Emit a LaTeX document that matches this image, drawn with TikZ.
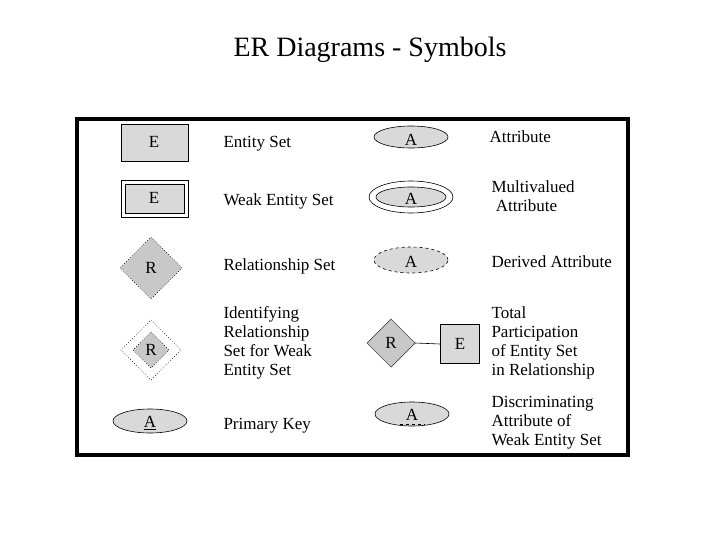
\documentclass[tikz,border=0pt]{standalone}
\usepackage{fontspec}
\setmainfont{Liberation Serif}
\usetikzlibrary{shapes.geometric}
\definecolor{shade}{HTML}{D9D9D9}
\definecolor{dshade}{HTML}{C8C8C8}
\begin{document}
\begin{tikzpicture}[x=1pt,y=-1pt,
  ent/.style={draw,fill=shade,line width=0.8pt},
  rel/.style={draw,fill=dshade,dotted,line width=0.7pt},
  att/.style={draw,fill=shade,ellipse,line width=0.6pt},
  lbl/.style={font=\fontsize{17}{19}\selectfont,anchor=west,align=left},
  sym/.style={font=\fontsize{17}{18}\selectfont}]
\useasboundingbox (0,0) rectangle (720,540);
\node[font=\fontsize{28}{32}\selectfont] (title) at (370,50) {ER Diagrams - Symbols};
\draw[line width=4pt] (77,119) rectangle (628,455);
% entity
\draw[ent] (121,124) rectangle (188,161);
\node[sym] (e1) at (154,142) {E};
\node[lbl] (l1) at (220,144) {Entity Set};
% weak
\draw[line width=0.8pt] (121,180) rectangle (188,217);
\draw[ent] (125,184) rectangle (184,213);
\node[sym] (e2) at (154,198) {E};
\node[lbl] (l2) at (220,201) {Weak Entity Set};
% relationship
\draw[rel] (151,237) -- (182,268) -- (151,299) -- (120,268) -- cycle;
\node[sym] (r1) at (151,268) {R};
\node[lbl] (l3) at (220,266) {Relationship Set};
% identifying
\draw[dotted,line width=0.7pt] (151,320) -- (181,350) -- (151,380) -- (121,350) -- cycle;
\draw[rel] (151,332) -- (169,350) -- (151,368) -- (133,350) -- cycle;
\node[sym] (r2) at (151,350) {R};
\node[lbl] (l4) at (220,343) {Identifying\\Relationship\\Set for Weak\\Entity Set};
% primary key
\node[att,minimum width=74pt,minimum height=24pt] (pk) at (150,421) {};
\node[sym] at (150,423) {\underline{A}};
\node[lbl] (l5) at (220,426) {Primary Key};
% attribute
\node[att,minimum width=74pt,minimum height=22pt] (a1) at (411,137) {};
\node[sym] at (411,140) {A};
\node[lbl] (l6) at (486,137) {Attribute};
% multivalued
\node[draw,ellipse,line width=0.6pt,minimum width=84pt,minimum height=32pt] (a2o) at (411,197) {};
\node[att,minimum width=70pt,minimum height=20pt] (a2) at (411,197) {};
\node[sym] at (411,199) {A};
\node[lbl] (l7) at (488,196) {Multivalued\\\ Attribute};
% derived
\node[att,dashed,minimum width=74pt,minimum height=26pt] (a3) at (411,260) {};
\node[sym] at (411,262) {A};
\node[lbl] (l8) at (488,262) {Derived Attribute};
% total participation
\draw[rel,solid,draw=black!70] (391,319) -- (415,343) -- (391,367) -- (367,343) -- cycle;
\node[sym] (r3) at (391,343) {R};
\node[ent,sym,minimum width=39pt,minimum height=39pt] (e3) at (460,344) {E};
\draw[line width=0.6pt] (415,343) -- (e3.west);
\node[lbl] (l9) at (488,343) {Total\\Participation\\of Entity Set\\in Relationship};
% discriminating
\node[att,minimum width=74pt,minimum height=24pt] (a4) at (412,414) {};
\node[sym] at (412,415) {A};
\draw[dashed,line width=0.6pt] (400,424) -- (425,424);
\node[lbl] (l10) at (488,423) {Discriminating\\Attribute of\\Weak Entity Set};
\end{tikzpicture}
\end{document}
